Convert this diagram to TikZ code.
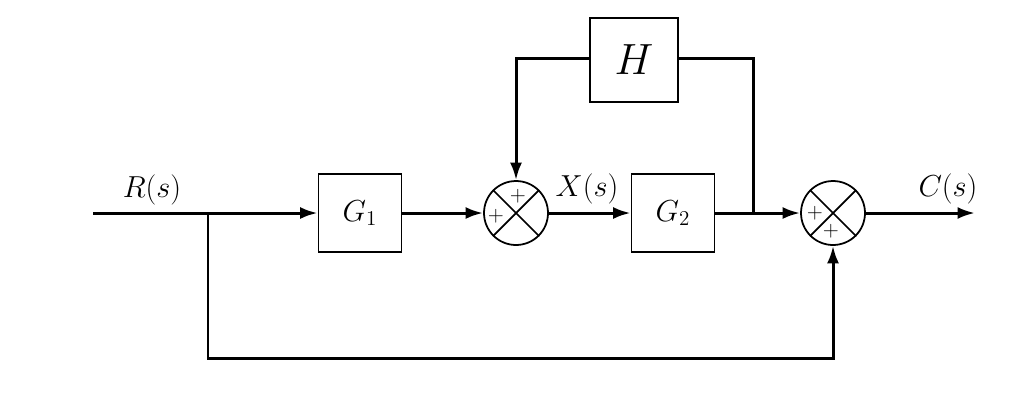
\documentclass[tikz,border=0pt]{standalone}
\usepackage{amsmath}
\usetikzlibrary{arrows,arrows.meta,positioning,calc}
\begin{document}
\begin{tikzpicture}[x=0.02cm,y=-0.02cm,
    block/.style={draw,line width=1pt,minimum width=1.66cm,minimum height=1.56cm,inner sep=0pt},
    sum/.style={draw,line width=1pt,circle,minimum size=1.28cm,inner sep=0pt},
    sig/.style={-{Latex[length=3.5mm,width=2.4mm]},line width=1.7pt},
    lin/.style={line width=1.7pt}]
        \useasboundingbox (0,0) rectangle (1024,407);

        % Blocks
        \node[block] (G1) at (360,213) {\LARGE$G_1$};
        \node[block] (G2) at (673,213) {\LARGE$G_2$};
        \node[block,minimum width=1.76cm,minimum height=1.68cm] (H) at (634,60) {\fontsize{30}{32}\selectfont$H$};

        % Summing junctions
        \node[sum] (sum1) at (516,213) {};
        \node[sum] (sum2) at (833,213) {};
        \draw[line width=1pt] (sum1.north west) -- (sum1.south east);
        \draw[line width=1pt] (sum1.north east) -- (sum1.south west);
        \draw[line width=1pt] (sum2.north west) -- (sum2.south east);
        \draw[line width=1pt] (sum2.north east) -- (sum2.south west);
        \node[font=\large] (p1) at (518,196) {$+$};
        \node[font=\large] (p2) at (496,216) {$+$};
        \node[font=\large] (p3) at (815,213) {$+$};
        \node[font=\large] (p4) at (831,231) {$+$};

        % Invisible nodes
        \coordinate (in) at (93,213);
        \coordinate (split) at (208,213);
        \coordinate (pick) at (753,213);
        \coordinate (out) at (975,213);
        \coordinate (lowL) at (208,358);
        \coordinate (lowR) at (833,358);
        \coordinate (hR) at (753,58);
        \coordinate (hL) at (516,58);

        % Labels
        \node (R) at (152,190) {\LARGE$R(s)$};
        \node (X) at (587,189) {\LARGE$X(s)$};
        \node (C) at (948,189) {\LARGE$C(s)$};

        % Forward path
        \draw[lin] (in) -- (split);
        \draw[sig] (split) -- (G1);
        \draw[sig] (G1) -- (sum1);
        \draw[sig] (sum1) -- (G2);
        \draw[sig] (G2) -- (sum2);
        \draw[sig] (sum2) -- (out);

        % Feedback through H
        \draw[lin] (pick) -- (hR) -- (H.east |- hR);
        \draw[sig] (H.west |- hL) -- (hL) -- (sum1);

        % Bypass path
        \draw[sig] (split) -- (lowL) -- (lowR) -- (sum2);
    \end{tikzpicture}
\end{document}
